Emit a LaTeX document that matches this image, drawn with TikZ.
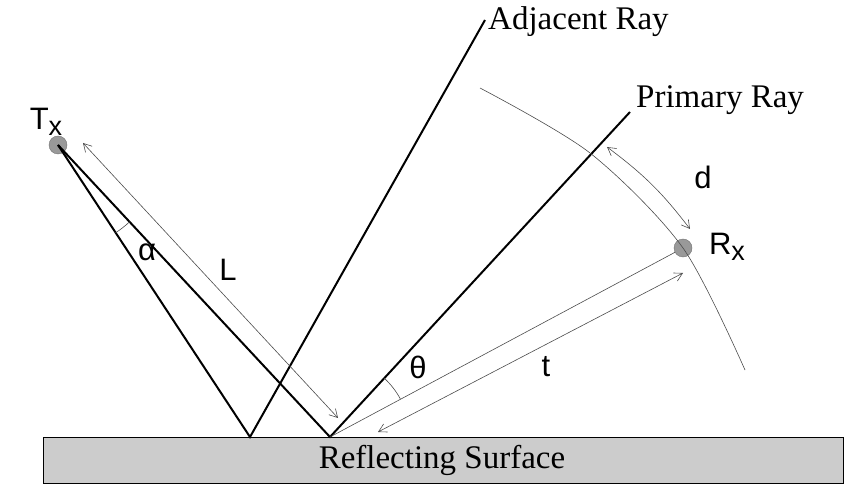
\documentclass[tikz,border=0pt]{standalone}
\usepackage{fontspec}
\setmainfont{Liberation Serif}
\newfontfamily\lsans{Liberation Sans}
\usetikzlibrary{arrows.meta,calc}
\begin{document}
\begin{tikzpicture}[x=1pt,y=-1pt,
  ray/.style={line width=2pt,black},
  thin gray/.style={line width=0.6pt,black!70},
  dim/.style={line width=0.6pt,black!70,{Straight Barb[length=8pt,width=9pt]}-{Straight Barb[length=8pt,width=9pt]}},
  dev/.style={circle,fill=black!40,draw=black!55,minimum size=18pt,inner sep=0pt},
  sym/.style={font=\lsans\fontsize{31}{31}\selectfont,inner sep=0pt},
  lbl/.style={font=\fontsize{33}{33}\selectfont,inner sep=0pt}]
\useasboundingbox (0,0) rectangle (860,497);
\node[draw=black,line width=1pt,fill=black!20,minimum width=800pt,minimum height=46pt,anchor=north west,inner sep=0pt] (surf) at (43,437) {};
\node[lbl] at (442,460) {Reflecting Surface};
\node[dev] (tx) at (58,145) {};
\node[dev] (rx) at (683,248) {};
\node[sym] at (46,122) {T\raisebox{-6pt}{\fontsize{27}{27}\selectfont x}};
\node[sym] at (727,247) {R\raisebox{-6pt}{\fontsize{27}{27}\selectfont x}};
\coordinate (a) at (250,437);
\coordinate (r) at (330,437);
\coordinate (ae) at (485,20);
\coordinate (pe) at (630,112);
\draw[ray] (tx.center) -- (a) -- (ae);
\draw[ray] (tx.center) -- (r) -- (pe);
\node[lbl,anchor=west] at (488,22) {Adjacent Ray};
\node[lbl,anchor=west] at (636,100) {Primary Ray};
\draw[thin gray] (r) -- (rx);
\draw[thin gray] plot[smooth] coordinates {(480,88) (590,153) (683,248) (745,370)};
\coordinate (l1) at (83,143); \coordinate (l2) at (338,418);
\draw[dim] (l1) -- (l2);
\coordinate (t1) at (378,432); \coordinate (t2) at (683,273);
\draw[dim] (t1) -- (t2);
\coordinate (d1) at (607,147); \coordinate (d2) at (690,229);
\draw[dim] (d1) to[bend left=8] (d2);
\draw[thin gray] ($(r)+(-47.3:80)$) arc[start angle=-47.3,end angle=-28.2,radius=80];
\draw[thin gray] ($(tx.center)+(56.7:105)$) arc[start angle=56.7,end angle=47,radius=105];
\node[sym] at (147,252) {α};
\node[sym] at (228,270) {L};
\node[sym] at (418,367) {θ};
\node[sym] at (546,367) {t};
\node[sym] at (703,177) {d};
\end{tikzpicture}
\end{document}
